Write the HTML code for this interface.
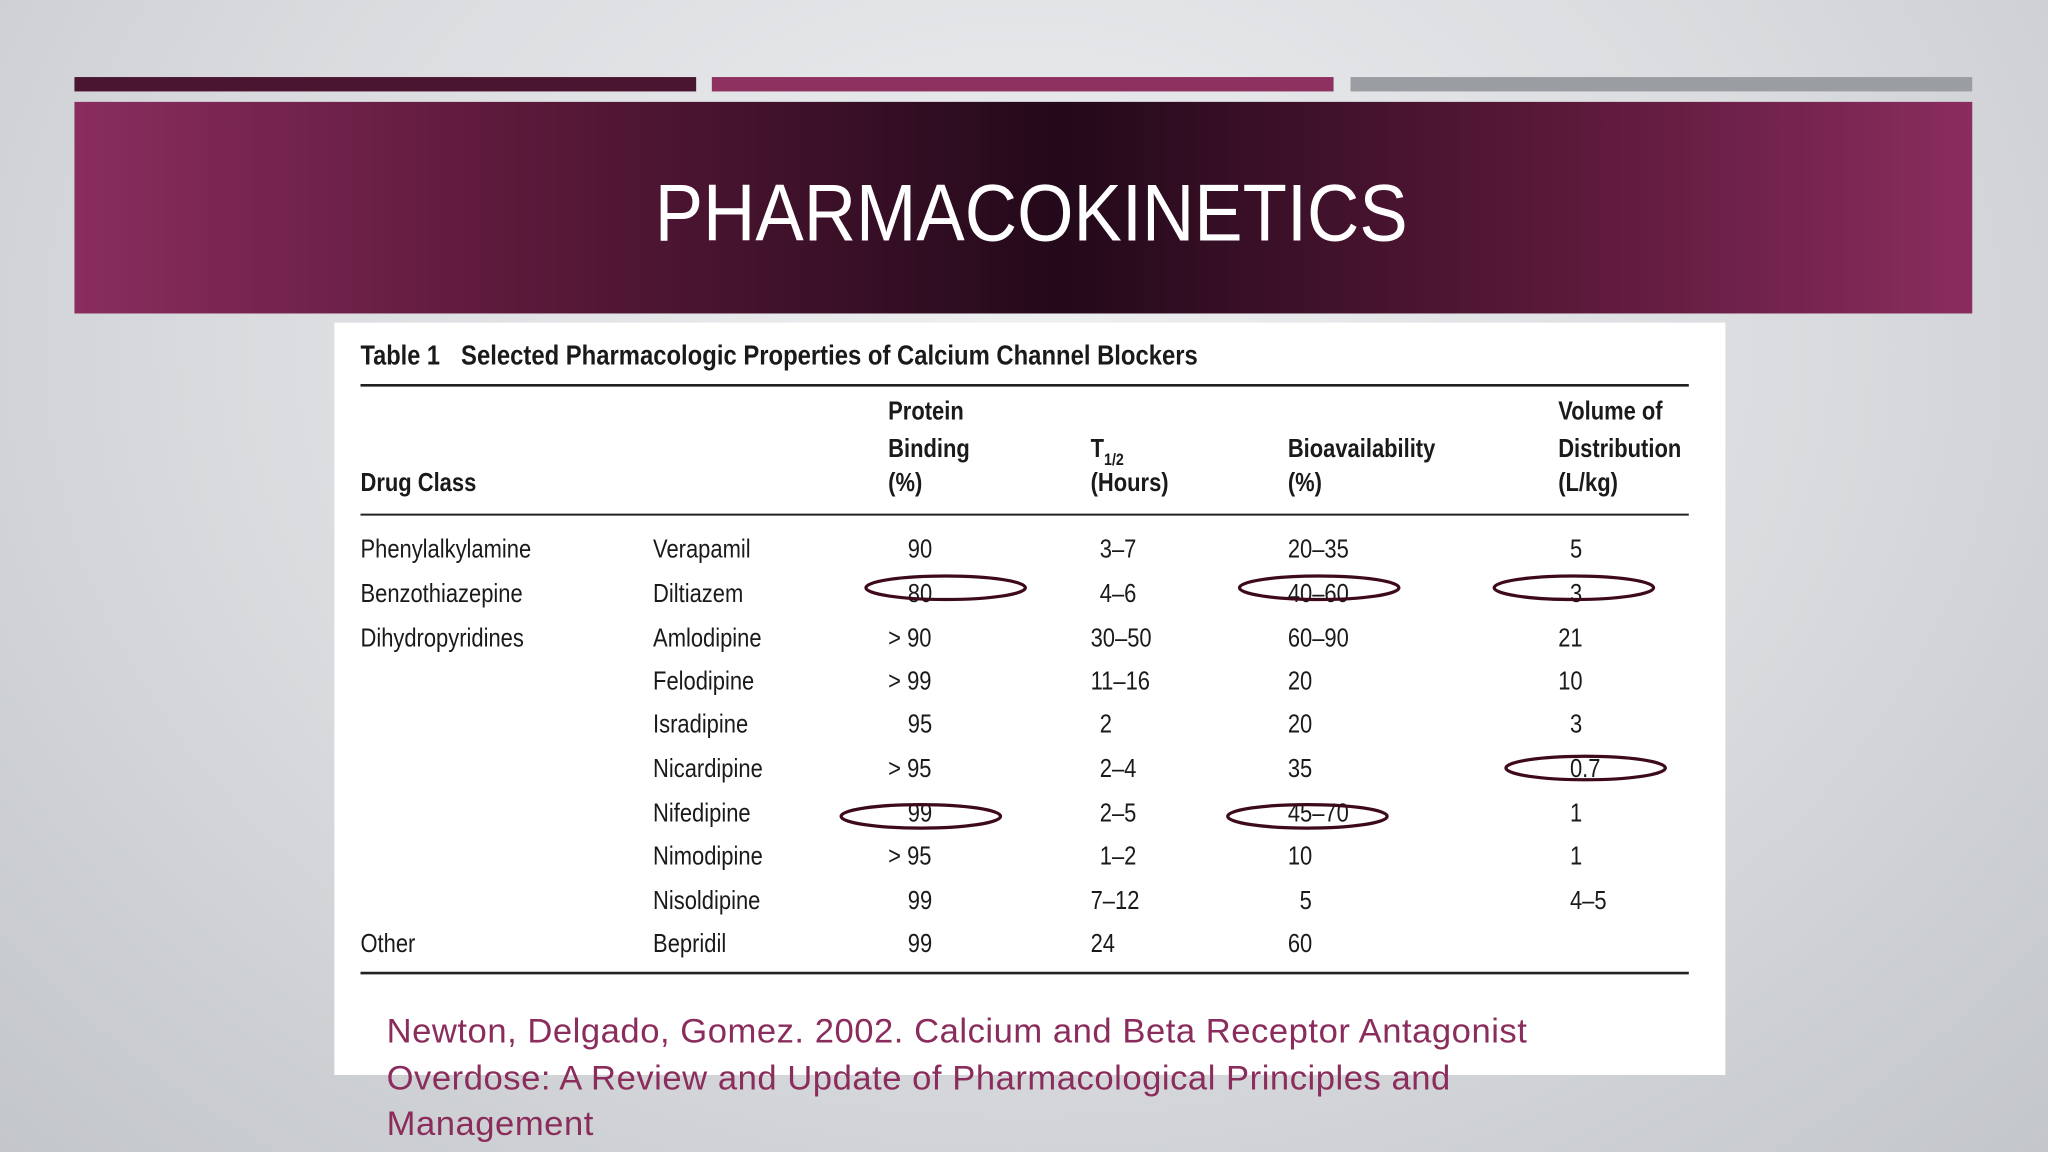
<!DOCTYPE html>
<html><head><meta charset="utf-8"><style>
html,body{margin:0;padding:0;width:2048px;height:1152px;overflow:hidden;}
body{background:radial-gradient(ellipse at 50% 30%,#eeeff1 0%,#d9dbde 55%,#c3c6ca 100%);}
#stage{position:absolute;left:0;top:0;width:1568px;height:882px;transform:scale(1.306122);transform-origin:0 0;font-family:"Liberation Sans",sans-serif;}
.abs{position:absolute;}
</style></head><body>
<div id="stage">
<div class="abs" style="left:57px;top:59px;width:476px;height:11px;background:#4a1530"></div>
<div class="abs" style="left:545px;top:59px;width:476px;height:11px;background:#8e3060"></div>
<div class="abs" style="left:1034px;top:59px;width:476px;height:11px;background:#9a9ea3"></div>
<div class="abs" style="left:57px;top:78px;width:1453px;height:162px;background:linear-gradient(90deg,#8a2d5e 0%,#5e1a3c 22%,#23091a 52%,#5e1a3c 80%,#8a2d5e 100%)"></div>
<div class="abs" style="left:57px;top:127px;width:1453px;text-align:center;color:#fff;font-size:62px;line-height:74px;letter-spacing:0px;transform:scaleX(0.895);transform-origin:784px 0;margin-left:0;">PHARMACOKINETICS</div>
<div class="abs" style="left:256px;top:247px;width:1065px;height:576px;background:#fff"></div>
<svg class="abs" id="tbl" style="left:0;top:0" width="1568" height="882" font-family="Liberation Sans, sans-serif" fill="#1a1a1a">
<line x1="276" y1="295" x2="1293" y2="295" stroke="#222" stroke-width="2"/>
<line x1="276" y1="394" x2="1293" y2="394" stroke="#222" stroke-width="1.5"/>
<line x1="276" y1="745" x2="1293" y2="745" stroke="#222" stroke-width="2"/>
</svg>
<div class="abs" style="left:296px;top:772px;width:900px;color:#8b2d5c;font-size:26.5px;line-height:35.5px;letter-spacing:0.4px;">Newton, Delgado, Gomez. 2002. Calcium and Beta Receptor Antagonist Overdose: A Review and Update of Pharmacological Principles and Management</div>
</div>
<script>
var svg=document.getElementById('tbl');var NS='http://www.w3.org/2000/svg';
function t(x,y,s,bold,size,name,sx){var e=document.createElementNS(NS,'text');
e.setAttribute('transform','translate('+x+','+y+') scale('+(sx||0.84)+',1)');
e.setAttribute('font-size',size||20);if(bold)e.setAttribute('font-weight','bold');
e.textContent=s;


svg.appendChild(e);return e;}
t(276,279,'Table 1',true,21,'table-title',0.86);
t(353,279,'Selected Pharmacologic Properties of Calcium Channel Blockers',true,21,'table-title',0.87);
t(680,321,'Protein',true,20,'header');t(680,350,'Binding',true,20,'header');t(680,376,'(%)',true,20,'header');
var th=t(835,350,'T',true,20,'header');var sub=document.createElementNS(NS,'tspan');sub.setAttribute('font-size','13');sub.setAttribute('dy','6');sub.textContent='1/2';th.appendChild(sub);
t(835,376,'(Hours)',true,20,'header');
t(986,350,'Bioavailability',true,20,'header');t(986,376,'(%)',true,20,'header');
t(1193,321,'Volume of',true,20,'header');t(1193,350,'Distribution',true,20,'header');t(1193,376,'(L/kg)',true,20,'header');
t(276,376,'Drug Class',true,20,'header');
var rows=[['Phenylalkylamine','Verapamil','90','3–7','20–35','5'],['Benzothiazepine','Diltiazem','80','4–6','40–60','3'],['Dihydropyridines','Amlodipine','> 90','30–50','60–90','21'],['','Felodipine','> 99','11–16','20','10'],['','Isradipine','95','2','20','3'],['','Nicardipine','> 95','2–4','35','0.7'],['','Nifedipine','99','2–5','45–70','1'],['','Nimodipine','> 95','1–2','10','1'],['','Nisoldipine','99','7–12','5','4–5'],['Other','Bepridil','99','24','60','']];
var ys=[427,461,495,528,561,595,629,662,696,729];
rows.forEach(function(r,i){var y=ys[i];
t(276,y,r[0]);t(500,y,r[1]);
t(r[2][0]=='>'?680:695,y,r[2]);
t(r[3].length<=3&&r[3]!='24'?842:835,y,r[3]);
t(r[4].length==1?995:986,y,r[4]);
t(r[5].length==2?1193:1202,y,r[5]);});
var ell=[[724,450],[1010,450],[1205,450],[1214,588],[705,625],[1001,625]];
ell.forEach(function(p){var e=document.createElementNS(NS,'ellipse');
e.setAttribute('cx',p[0]);e.setAttribute('cy',p[1]);e.setAttribute('rx',61);e.setAttribute('ry',9);
e.setAttribute('fill','none');e.setAttribute('stroke','#3d0a1c');e.setAttribute('stroke-width','2.5');


svg.appendChild(e);});
</script>
</body></html>
